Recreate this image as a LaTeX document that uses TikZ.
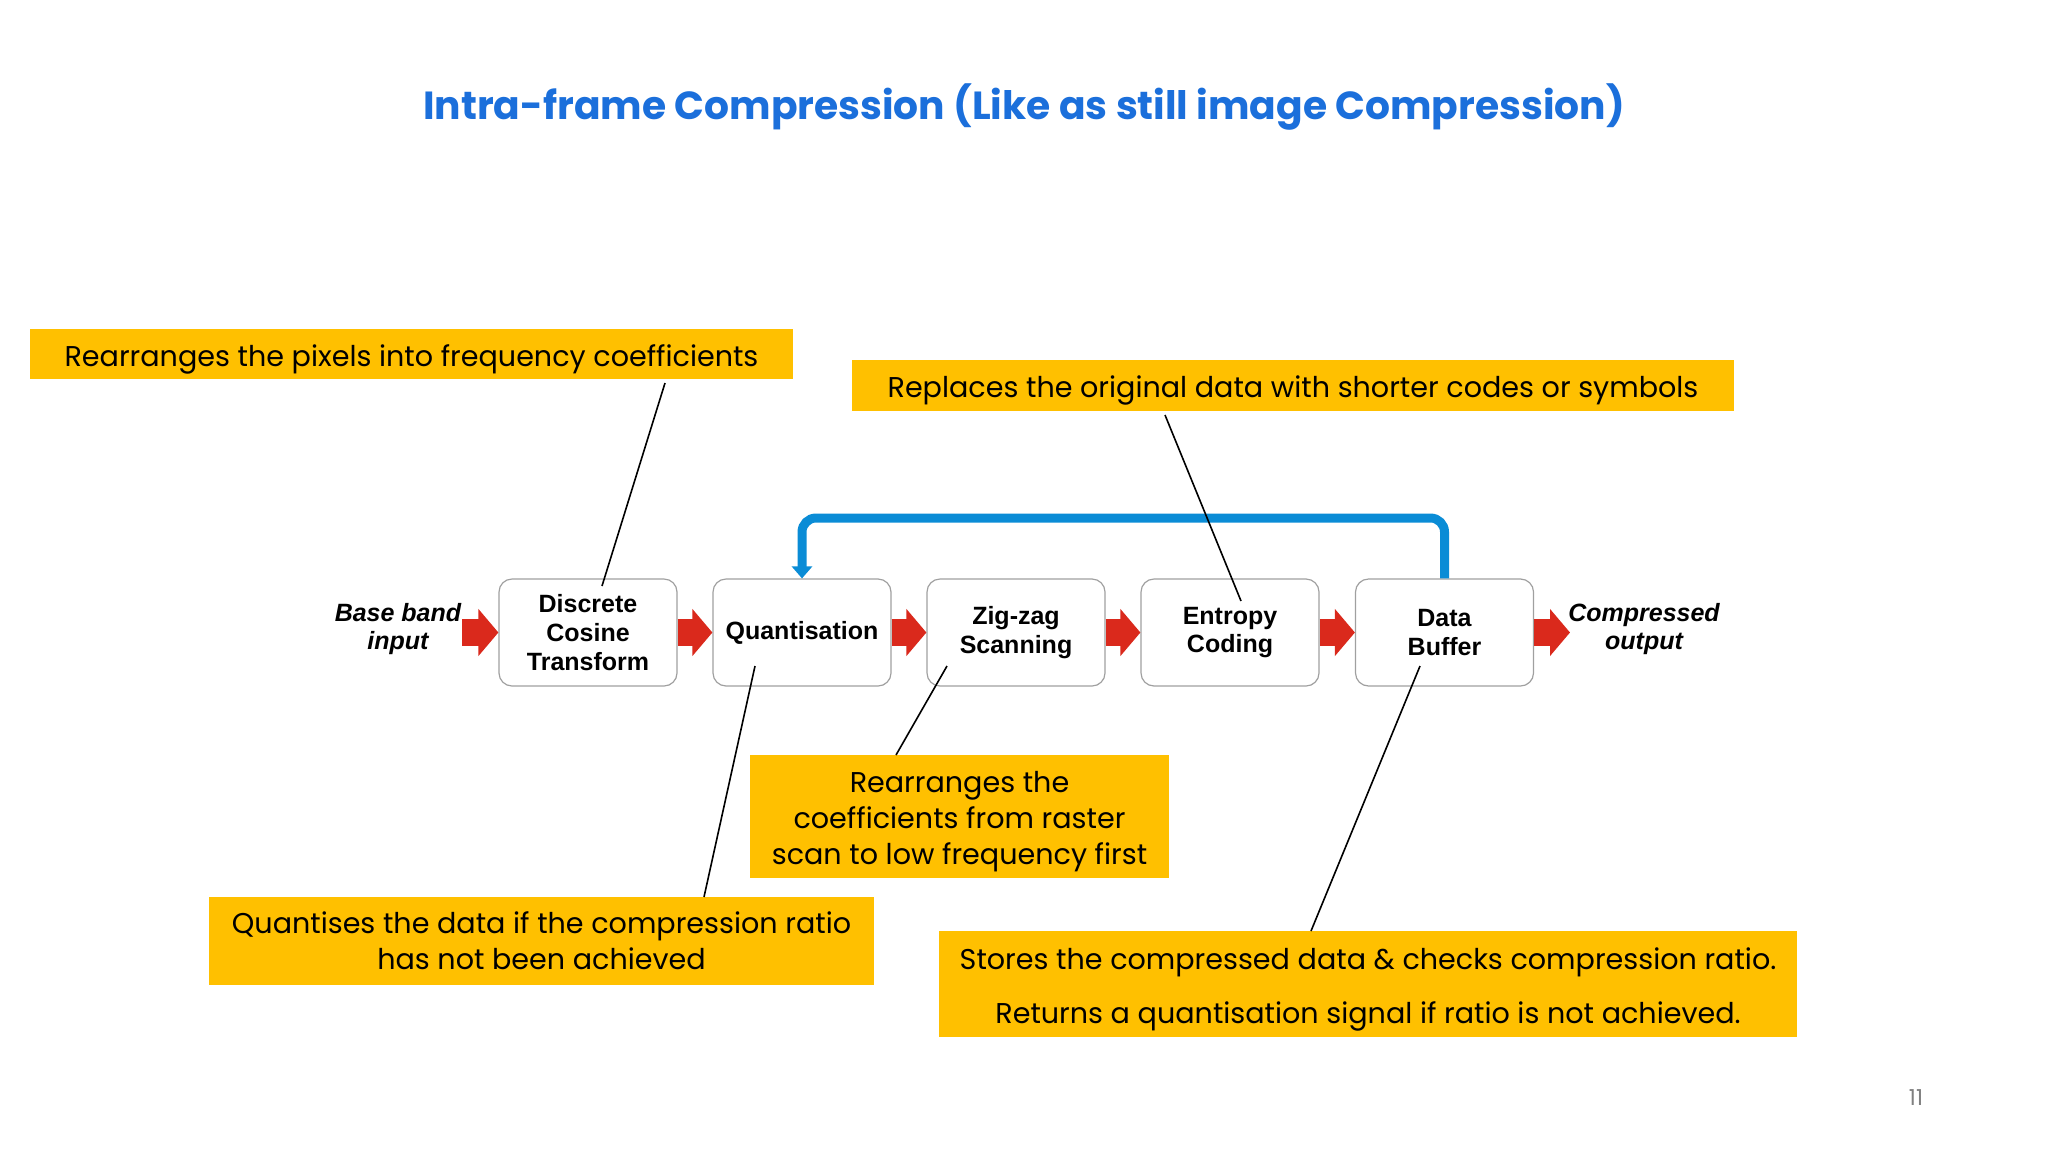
\documentclass[tikz,border=0pt]{standalone}
\usepackage{fontspec}
\setmainfont{Liberation Sans}
\newfontfamily\pop{Poppins}
\usetikzlibrary{arrows.meta,calc}
\definecolor{callY}{HTML}{FFC000}
\definecolor{titleblue}{HTML}{1B6FDB}
\definecolor{fbblue}{HTML}{0A8CD6}
\definecolor{arrred}{HTML}{DA291C}
\definecolor{boxgray}{HTML}{A0A0A0}
\tikzset{
  blk/.style={draw=boxgray, line width=0.6pt, rounded corners=6.5pt, minimum width=89pt, minimum height=53.5pt,
    fill=white, align=center, inner sep=0pt, font=\fontsize{12.5}{14.4}\selectfont\bfseries},
  io/.style={align=center, inner sep=0pt, font=\fontsize{12.5}{14.4}\selectfont\bfseries\itshape},
  callout/.style={fill=callY, align=center, inner sep=0pt, font=\pop\fontsize{14.3}{18}\selectfont},
  redarr/.style={draw=arrred, line width=13.5pt, -{Triangle[width=23pt,length=10pt]}},
  fb/.style={draw=fbblue, line width=4.5pt, rounded corners=7pt, -{Triangle[width=10pt,length=6pt]}},
  pointer/.style={draw=black, line width=0.8pt}
}
\newcommand{\dn}[1]{\raisebox{-2.6pt}[\height][\depth]{#1}}
\begin{document}
\begin{tikzpicture}[x=0.5pt,y=-0.5pt]
\useasboundingbox (0,0) rectangle (2048,1152);
\fill[white] (0,0) rectangle (2048,1152);

% title
\node[font=\pop\bfseries\fontsize{19.6}{24}\selectfont, text=titleblue] (title) at (1024,107)
  {Intra-frame Compression (Like as still image Compression)};

% blocks
\node[blk] (dct) at (588,632.5) {Discrete\\Cosine\\Transform};
\node[blk] (q)   at (802,632.5) {Quantisation};
\node[blk] (zz)  at (1016,632.5) {Zig-zag\\Scanning};
\node[blk] (ec)  at (1230,632.5) {Entropy\\Coding};
\node[blk] (db)  at (1444.5,632.5) {Data\\Buffer};

\node[io] (in)  at (398,629) {Base band\\input};
\node[io] (out) at (1644,629) {Compressed\\output};

\coordinate (inA) at (462,632.5);
\coordinate (outA) at (1570,632.5);

% red arrows
\draw[redarr] (inA) -- (dct.west);
\draw[redarr] (dct.east) -- (q.west);
\draw[redarr] (q.east) -- (zz.west);
\draw[redarr] (zz.east) -- (ec.west);
\draw[redarr] (ec.east) -- (db.west);
\draw[redarr] (db.east) -- (outA);

% feedback
\coordinate (fbtop) at (1100,518);
\draw[fb] (db.north) |- (fbtop) -| (q.north);

% callouts
\node[callout, minimum width=381.5pt, minimum height=25pt] (c1) at (411.5,354)
  {\dn{Rearranges the pixels into frequency coefficients}};
\node[callout, minimum width=441pt, minimum height=25.5pt] (c2) at (1293,385.5)
  {\dn{Replaces the original data with shorter codes or symbols}};
\node[callout, minimum width=209.5pt, minimum height=61.5pt] (c3) at (959.5,816.5)
  {\dn{\parbox{209pt}{\centering Rearranges the\\coefficients from raster\\scan to low frequency first}}};
\node[callout, minimum width=332.5pt, minimum height=44pt] (c4) at (541.5,941)
  {Quantises the data if the compression ratio\\has not been achieved};
\node[callout, minimum width=429pt, minimum height=53pt, font=\pop\fontsize{14.3}{27}\selectfont] (c5) at (1368,984)
  {\dn{\parbox{428pt}{\centering Stores the compressed data \& checks compression ratio.\\Returns a quantisation signal if ratio is not achieved.}}};

% pointers
\coordinate (p1a) at (665,383);  \coordinate (p1b) at (602,586);
\coordinate (p2a) at (1165,415); \coordinate (p2b) at (1241,601);
\coordinate (p3a) at (896,755);  \coordinate (p3b) at (947,666);
\coordinate (p4a) at (704,897);  \coordinate (p4b) at (755,666);
\coordinate (p5a) at (1311,931); \coordinate (p5b) at (1420,666);
\draw[pointer] (p1a) -- (p1b);
\draw[pointer] (p2a) -- (p2b);
\draw[pointer] (p3a) -- (p3b);
\draw[pointer] (p4a) -- (p4b);
\draw[pointer] (p5a) -- (p5b);

% page number
\node[font=\pop\fontsize{11}{13}\selectfont, text=gray] (pg) at (1916,1098) {11};
\end{tikzpicture}
\end{document}
